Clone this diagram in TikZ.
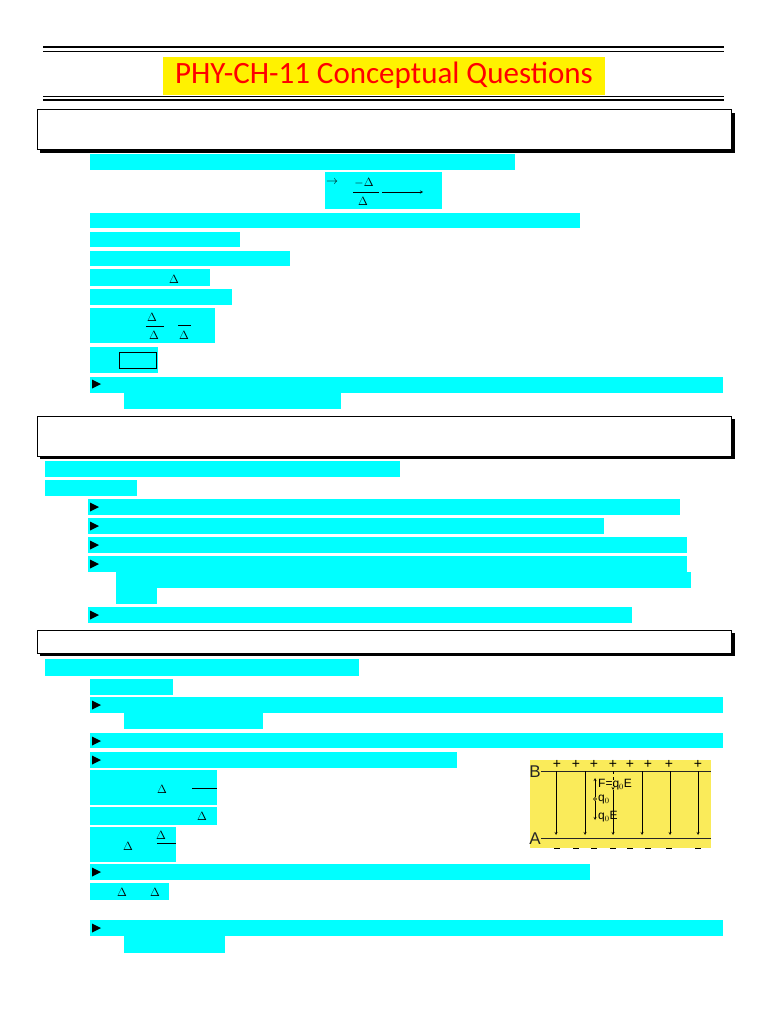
\documentclass[tikz,border=0pt]{standalone}
\usepackage{fontspec}
\setmainfont{Carlito}
\newfontfamily\arialf{Liberation Sans}
\usetikzlibrary{positioning}
\definecolor{hilite}{RGB}{0,255,255}
\definecolor{plate}{RGB}{250,235,90}
\begin{document}
\begin{tikzpicture}[x=1pt,y=-1pt,>=stealth]
        \tikzset{bar/.style={fill=hilite}, secbox/.style={draw, line width=1pt}, tri/.style={fill=black},
            sym/.style={font=\fontsize{13}{14}\selectfont}, lab/.style={font=\arialf\fontsize{12}{13}\selectfont, anchor=west, inner sep=0pt}}
        \useasboundingbox (0,0) rectangle (768,1024);
        % header lines
        \draw [line width=1.6pt] (43,47) -- (724,47);
        \draw [line width=0.6pt] (43,51) -- (724,51);
        \draw [line width=0.6pt] (43,96) -- (724,96);
        \draw [line width=1.6pt] (43,100) -- (724,100);
        \fill [yellow] (163,57) rectangle (605,95);
        \node [text=red, font=\fontsize{31}{33}\selectfont] (title) at (384,75) {PHY-CH-11 Conceptual Questions};
        % section boxes with shadow
        \foreach \ya/\yb in {110/150, 416/456, 630/653} {
            \fill (40,\ya+3) rectangle (735,\yb+3);
            \draw [secbox, fill=white] (37,\ya) rectangle (731,\yb);
        }
        % highlight bars
        \foreach \xa/\ya/\xb/\yb in {90/154/515/170, 325/172/442/209, 90/213/580/228, 90/232/240/247,
            90/251/290/266, 90/269/210/286, 90/289/232/305, 90/308/215/343, 90/347/158/373,
            90/377/723/393, 124/393/341/409,
            45/461/400/477, 45/480/137/496, 88/499/680/515, 88/518/604/534, 88/537/687/553,
            88/556/687/572, 116/572/691/588, 116/588/157/604, 88/607/632/623,
            45/659/359/676, 90/679/173/695, 90/697/723/713, 124/713/263/729, 90/733/723/748,
            90/752/457/768, 90/770/217/805, 90/807/217/825, 90/827/176/862, 90/864/590/880,
            90/883/169/900, 90/920/723/936, 124/936/225/953}
            \fill [bar] (\xa,\ya) rectangle (\xb,\yb);
        % bullet markers
        \foreach \x/\y in {96/384, 94/507, 94/526, 94/545, 94/564, 94/615, 96/705, 96/741, 96/760, 96/872, 96/928}
            \fill [tri] (\x-4,\y-4.5) -- (\x+5,\y) -- (\x-4,\y+4.5) -- cycle;
        % math fragments
        \node [sym] (ar1) at (332,182) {$\rightarrow$};
        \node [sym] (num1) at (364,183) {$-\Delta$};
        \node [sym] (den1) at (363,201) {$\Delta$};
        \draw (353,192) -- (379,192);
        \draw [->] (382,192) -- (423,192);
        \node [sym] (d1) at (174,279) {$\Delta$};
        \node [sym] (num2) at (152,317) {$\Delta$};
        \node [sym] (den2) at (154,335) {$\Delta$};
        \draw (146,326) -- (164,326);
        \node [sym] (d2) at (184,335) {$\Delta$};
        \draw (178,325) -- (191,325);
        \draw [thick] (119,352) rectangle (156,368);
        \node [sym] (d3) at (162,789) {$\Delta$};
        \draw (192,788) -- (217,788);
        \node [sym] (d4) at (202,816) {$\Delta$};
        \node [sym] (d5) at (161,835) {$\Delta$};
        \draw (157,843) -- (176,843);
        \node [sym] (d6) at (128,846) {$\Delta$};
        \node [sym] (d7) at (122,892) {$\Delta$};
        \node [sym] (d8) at (155,892) {$\Delta$};
        % field figure
        \fill [plate] (530,760) rectangle (711,848);
        \draw [thick, gray!30!black] (541,771) -- (711,771);
        \draw [thick, gray!30!black] (541,838) -- (711,838);
        \node [font=\arialf\fontsize{17}{18}\selectfont, text=gray!30!black] (B) at (535,772) {B};
        \node [font=\arialf\fontsize{17}{18}\selectfont, text=gray!30!black] (A) at (535,839) {A};
        \foreach \x in {557,576,594,613,630,648,669,698} {
            \node [font=\arialf\fontsize{14}{14}\selectfont] at (\x,764) {+};
            \draw [thick] (\x-3,848) -- (\x+3,848);
        }
        \foreach \x in {556,585,642,670,698}
            \draw [->] (\x,771) -- (\x,835);
        \draw [->, dashed] (613,771) -- (613,790);
        \draw (613,790) -- (613,808);
        \draw [->] (613,808) -- (613,835);
        \draw [->] (595,797) -- (595,778);
        \draw [->] (595,801) -- (595,820);
        \draw (595,799) circle (1.5);
        \node [lab] (F) at (598,785) {F=q$_0$E};
        \node [lab] (q) at (598,800) {q$_0$};
        \node [lab] (qE) at (598,817) {q$_0$E};
\end{tikzpicture}
\end{document}
